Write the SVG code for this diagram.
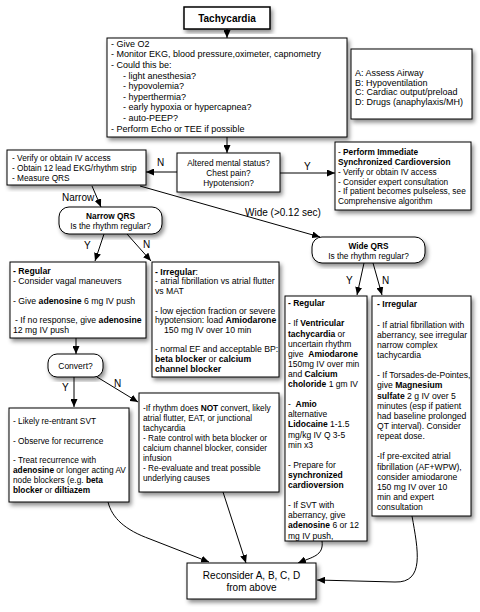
<svg xmlns="http://www.w3.org/2000/svg" width="480" height="612" viewBox="0 0 480 612">
<defs>
<style>
text{font-family:"Liberation Sans",Arial,Helvetica,sans-serif;fill:#000}
.t{font-size:8.5px}
.c{font-size:8.3px;text-anchor:middle}
.l{font-size:10px}
.b{font-weight:bold}
.s9 text{font-size:9px}
.s83 text{font-size:8.3px}
.s87 text{font-size:8.7px}
.s86 text{font-size:8.6px}
.box{fill:#fff;stroke:#000;stroke-width:1;filter:url(#sh)}
.con{fill:none;stroke:#000;stroke-width:1;marker-end:url(#ah)}
</style>
<filter id="sh" x="-10%" y="-10%" width="130%" height="130%">
<feDropShadow dx="2" dy="3" stdDeviation="2" flood-color="#000" flood-opacity="0.45"/>
</filter>
<marker id="ah" markerUnits="userSpaceOnUse" markerWidth="8" markerHeight="7" refX="8" refY="3.5" orient="auto">
<path d="M0,0 L8,3.5 L0,7 z" fill="#000"/>
</marker>
</defs>
<rect width="480" height="612" fill="#fff"/>

<g id="connectors">
<path class="con" d="M227,29 L227,38"/>
<path class="con" d="M227,137 L227,153"/>
<path class="con" d="M177,172 L146,172"/>
<path class="con" d="M280,173 L335,173"/>
<path class="con" d="M92,186 L101,207"/>
<path class="con" d="M140,186 L320,237"/>
<path class="con" d="M104,234 L95,261"/>
<path class="con" d="M127,234 L151,261"/>
<path class="con" d="M76,338 L76,354"/>
<path class="con" d="M74,377 L74,407"/>
<path class="con" d="M97,377 L138,402"/>
<path class="con" d="M364,263 L357,295"/>
<path class="con" d="M373,263 L382,295"/>
<path class="con" d="M108,502 C112,518 125,530 150,539 L209,562"/>
<path class="con" d="M223,492 L246,563"/>
<path class="con" d="M322,541 C324,556 312,557 298,563"/>
<path class="con" d="M412,516 C418,550 425,583 395,582 L317,580"/>
<text class="l" x="157" y="166">N</text>
<text class="l" x="304" y="170">Y</text>
<text class="l" x="62" y="201">Narrow</text>
<text class="l" x="245" y="216">Wide (&gt;0.12 sec)</text>
<text class="l" x="84" y="249">Y</text>
<text class="l" x="143" y="248">N</text>
<text class="l" x="62" y="391">Y</text>
<text class="l" x="114" y="387">N</text>
<text class="l" x="346" y="284">Y</text>
<text class="l" x="382" y="284">N</text>
</g>

<g id="tachycardia">
<rect class="box" x="184" y="7" width="86" height="22" style="stroke-width:1.5"/>
<text class="l b" x="227" y="22" text-anchor="middle">Tachycardia</text>
</g>

<g id="initial" class="s9">
<rect class="box" x="107" y="38" width="240" height="99"/>
<text class="t" x="111" y="46.7">- Give O2</text>
<text class="t" x="111" y="57.3">- Monitor EKG, blood pressure,oximeter, capnometry</text>
<text class="t" x="111" y="67.9">- Could this be:</text>
<text class="t" x="123" y="78.5">- light anesthesia?</text>
<text class="t" x="123" y="89.1">- hypovolemia?</text>
<text class="t" x="123" y="99.7">- hyperthermia?</text>
<text class="t" x="123" y="110.3">- early hypoxia or hypercapnea?</text>
<text class="t" x="123" y="120.9">- auto-PEEP?</text>
<text class="t" x="111" y="131.5">- Perform Echo or TEE if possible</text>
</g>

<g id="abcd" class="s9">
<rect class="box" x="351" y="49" width="121" height="70"/>
<text class="t" x="355" y="75.7">A: Assess Airway</text>
<text class="t" x="355" y="85.5">B: Hypoventilation</text>
<text class="t" x="355" y="95.3">C: Cardiac output/preload</text>
<text class="t" x="355" y="105.1">D: Drugs (anaphylaxis/MH)</text>
</g>

<g id="unstable">
<rect class="box" x="177" y="153" width="103" height="39"/>
<text class="c" x="228.5" y="166.2">Altered mental status?</text>
<text class="c" x="228.5" y="175.9">Chest pain?</text>
<text class="c" x="228.5" y="185.6">Hypotension?</text>
</g>

<g id="ivaccess" class="s83">
<rect class="box" x="7" y="150" width="139" height="35"/>
<text class="t" x="12" y="161.2">- Verify or obtain IV access</text>
<text class="t" x="12" y="171.2">- Obtain 12 lead EKG/rhythm strip</text>
<text class="t" x="12" y="181.2">- Measure QRS</text>
</g>

<g id="cardioversion" class="s83">
<rect class="box" x="335" y="142" width="136" height="68"/>
<text class="t" x="338" y="155.2">- <tspan class="b">Perform Immediate</tspan></text>
<text class="t b" x="338" y="165">Synchronized Cardioversion</text>
<text class="t" x="338" y="174.8">- Verify or obtain IV access</text>
<text class="t" x="338" y="184.6">- Consider expert consultation</text>
<text class="t" x="338" y="194.4">- If patient becomes pulseless, see</text>
<text class="t" x="338" y="204.2">Comprehensive algorithm</text>
</g>

<g id="narrowqrs">
<rect class="box" x="59" y="207" width="103" height="27" rx="10"/>
<text class="c b" x="110.5" y="219">Narrow QRS</text>
<text class="c" x="110.5" y="229">Is the rhythm regular?</text>
</g>

<g id="wideqrs">
<rect class="box" x="312" y="237" width="113" height="26" rx="10"/>
<text class="c b" x="368.5" y="249">Wide QRS</text>
<text class="c" x="368.5" y="259">Is the rhythm regular?</text>
</g>

<g id="narrowregular" class="s87">
<rect class="box" x="10" y="262" width="136" height="76"/>
<text class="t b" x="13" y="274.2">- Regular</text>
<text class="t" x="13" y="284">- Consider vagal maneuvers</text>
<text class="t" x="13" y="303.6">- Give <tspan class="b">adenosine</tspan> 6 mg IV push</text>
<text class="t" x="15" y="323.2">- If no response, give <tspan class="b">adenosine</tspan></text>
<text class="t" x="13" y="333">12 mg IV push</text>
</g>

<g id="narrowirregular" class="s87">
<rect class="box" x="152" y="262" width="127" height="115"/>
<text class="t" x="155" y="274.7"><tspan class="b">- Irregular</tspan>:</text>
<text class="t" x="155" y="284.4">- atrial fibrillation vs atrial flutter</text>
<text class="t" x="155" y="294.1">vs MAT</text>
<text class="t" x="155" y="313.5">- low ejection fraction or severe</text>
<text class="t" x="155" y="323.2">hypotension: load <tspan class="b">Amiodarone</tspan></text>
<text class="t" x="164" y="332.9">150 mg IV over 10 min</text>
<text class="t" x="155" y="352.3">- normal EF and acceptable BP:</text>
<text class="t" x="155" y="362"><tspan class="b">beta blocker</tspan> or <tspan class="b">calcium</tspan></text>
<text class="t b" x="155" y="371.7">channel blocker</text>
</g>

<g id="convert">
<rect class="box" x="48" y="354" width="55" height="23" rx="9"/>
<text class="c" x="75.5" y="368.5" style="font-size:8.5px">Convert?</text>
</g>

<g id="svt" class="s83">
<rect class="box" x="9" y="408" width="120" height="94"/>
<text class="t" x="13" y="424.2">- Likely re-entrant SVT</text>
<text class="t" x="13" y="443.8">- Observe for recurrence</text>
<text class="t" x="13" y="463.4">- Treat recurrence with</text>
<text class="t" x="13" y="473.2"><tspan class="b">adenosine</tspan> or longer acting AV</text>
<text class="t" x="13" y="483">node blockers (e.g. <tspan class="b">beta</tspan></text>
<text class="t" x="13" y="492.8"><tspan class="b">blocker</tspan> or <tspan class="b">diltiazem</tspan></text>
</g>

<g id="notconvert" class="s83">
<rect class="box" x="139" y="393" width="140" height="99"/>
<text class="t" x="143" y="411.2">-If rhythm does <tspan class="b">NOT</tspan> convert, likely</text>
<text class="t" x="143" y="421.1">atrial flutter, EAT, or junctional</text>
<text class="t" x="143" y="431.1">tachycardia</text>
<text class="t" x="143" y="441">- Rate control with beta blocker or</text>
<text class="t" x="143" y="451">calcium channel blocker, consider</text>
<text class="t" x="143" y="460.9">infusion</text>
<text class="t" x="143" y="470.9">- Re-evaluate and treat possible</text>
<text class="t" x="143" y="480.8">underlying causes</text>
</g>

<g id="wideregular">
<rect class="box" x="285" y="296" width="82" height="245"/>
<text class="t b" x="288" y="306.2">- Regular</text>
<text class="t" x="288" y="326.4">- If <tspan class="b">Ventricular</tspan></text>
<text class="t" x="288" y="336.5"><tspan class="b">tachycardia</tspan> or</text>
<text class="t" x="288" y="346.6">uncertain rhythm</text>
<text class="t" x="288" y="356.7" xml:space="preserve">give  <tspan class="b">Amiodarone</tspan></text>
<text class="t" x="288" y="366.8">150mg IV over min</text>
<text class="t" x="288" y="376.9">and <tspan class="b">Calcium</tspan></text>
<text class="t" x="288" y="387"><tspan class="b">choloride</tspan> 1 gm IV</text>
<text class="t" x="288" y="407.2" xml:space="preserve">-  <tspan class="b">Amio</tspan></text>
<text class="t" x="288" y="417.3">alternative</text>
<text class="t" x="288" y="427.4"><tspan class="b">Lidocaine</tspan> 1-1.5</text>
<text class="t" x="288" y="437.5">mg/kg IV Q 3-5</text>
<text class="t" x="288" y="447.6">min x3</text>
<text class="t" x="288" y="467.8">- Prepare for</text>
<text class="t b" x="288" y="477.9">synchronized</text>
<text class="t b" x="288" y="488">cardioversion</text>
<text class="t" x="288" y="508.2">- If SVT with</text>
<text class="t" x="288" y="518.3">aberrancy, give</text>
<text class="t" x="288" y="528.4"><tspan class="b">adenosine</tspan> 6 or 12</text>
<text class="t" x="288" y="538.5">mg IV push,</text>
</g>

<g id="wideirregular" class="s86">
<rect class="box" x="372" y="296" width="99" height="220"/>
<text class="t b" x="377" y="307.2">- Irregular</text>
<text class="t" x="377" y="327.5">- If atrial fibrillation with</text>
<text class="t" x="377" y="337.6">aberrancy, see irregular</text>
<text class="t" x="377" y="347.8">narrow complex</text>
<text class="t" x="377" y="357.9">tachycardia</text>
<text class="t" x="377" y="378.2">- If Torsades-de-Pointes,</text>
<text class="t" x="377" y="388.4">give <tspan class="b">Magnesium</tspan></text>
<text class="t" x="377" y="398.5"><tspan class="b">sulfate</tspan> 2 g IV over 5</text>
<text class="t" x="377" y="408.7">minutes (esp if patient</text>
<text class="t" x="377" y="418.8">had baseline prolonged</text>
<text class="t" x="377" y="429">QT interval). Consider</text>
<text class="t" x="377" y="439.1">repeat dose.</text>
<text class="t" x="377" y="459.4">-If pre-excited atrial</text>
<text class="t" x="377" y="469.6">fibrillation (AF+WPW),</text>
<text class="t" x="377" y="479.7">consider amiodarone</text>
<text class="t" x="377" y="489.9">150 mg IV over 10</text>
<text class="t" x="377" y="500">min and expert</text>
<text class="t" x="377" y="510.2">consultation</text>
</g>

<g id="reconsider">
<rect class="box" x="187" y="563" width="129" height="36"/>
<text class="l" x="251.5" y="579" text-anchor="middle">Reconsider A, B, C, D</text>
<text class="l" x="251.5" y="591" text-anchor="middle">from above</text>
</g>
</svg>
